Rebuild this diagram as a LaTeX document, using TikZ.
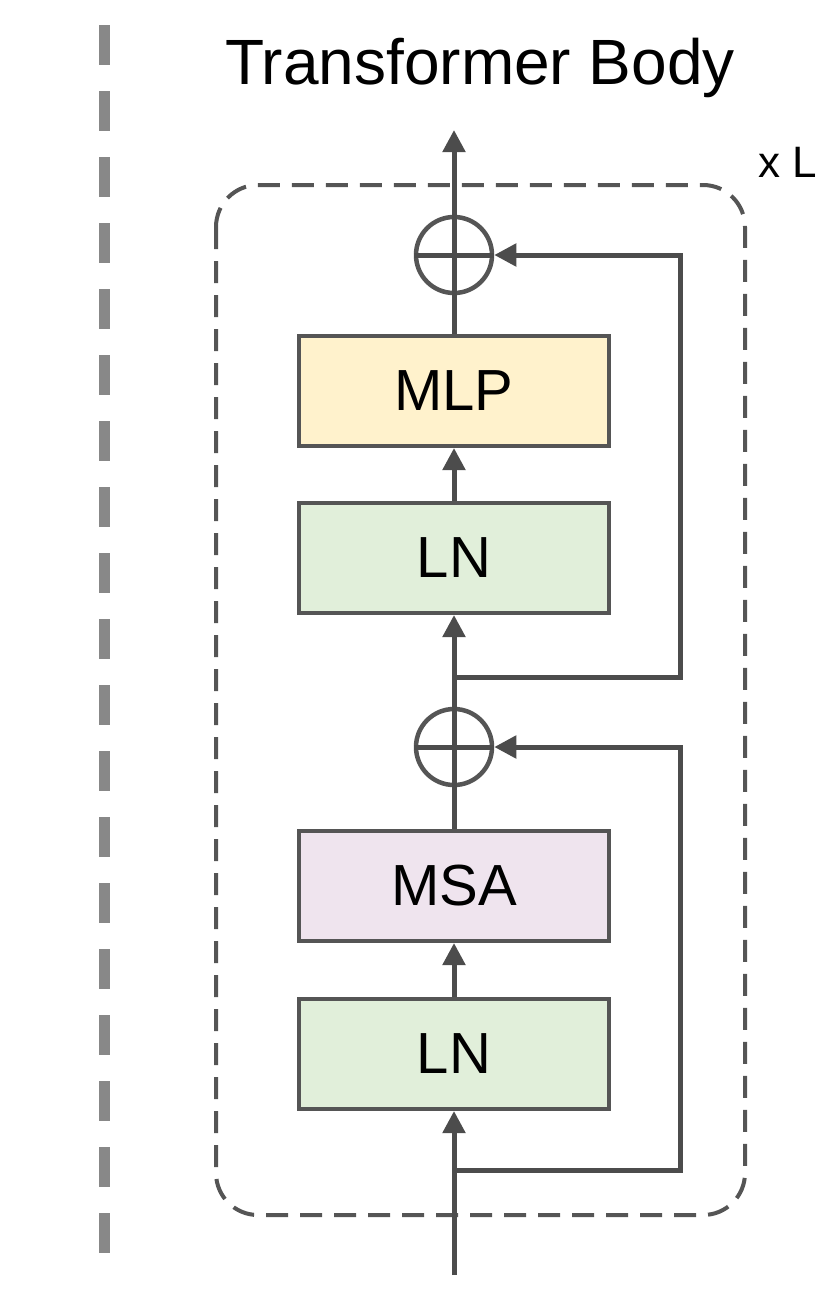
\documentclass[tikz,border=0pt]{standalone}
\usepackage{fontspec}
\setmainfont{Liberation Sans}
\usetikzlibrary{arrows.meta}
\definecolor{ln}{HTML}{555555}
\definecolor{lg}{HTML}{888888}
\definecolor{mlp}{HTML}{FFF2CC}
\definecolor{lnf}{HTML}{E1EFDA}
\definecolor{msa}{HTML}{EFE4EE}
\begin{document}
\begin{tikzpicture}[x=1pt,y=-1pt,
  box/.style={draw=ln,line width=4pt,minimum width=310pt,minimum height=110pt,inner sep=0pt,font=\fontsize{58}{60}\selectfont},
  plus/.style={draw=ln,line width=4.5pt,circle,minimum size=76pt,inner sep=0pt},
  con/.style={draw=ln!90!black,line width=5pt},
  arr/.style={con,-{Triangle[length=22pt,width=22pt]}}]
\useasboundingbox (0,0) rectangle (832,1304);
\draw[lg,line width=11pt,dash pattern=on 40pt off 26pt] (104,25) -- (104,1265);
\node[font=\fontsize{64}{66}\selectfont] (title) at (480,68) {Transformer Body};
\node[font=\fontsize{44}{46}\selectfont] (xl) at (788,162) {x L};
\draw[ln,line width=4pt,dash pattern=on 22pt off 12pt,rounded corners=42pt] (216,185) rectangle (745,1215);
\node[box,fill=lnf] (ln1) at (454,1054) {LN};
\node[box,fill=msa] (msa) at (454,886) {MSA};
\node[plus] (p1) at (454,747) {};
\node[box,fill=lnf] (ln2) at (454,558) {LN};
\node[box,fill=mlp] (mlp) at (454,391) {MLP};
\node[plus] (p2) at (454,255) {};
\coordinate (in) at (454,1275);
\coordinate (out) at (454,130);
\coordinate (s1) at (454,1170);
\coordinate (s2) at (454,677);
\draw[con] (p1.north) -- (p1.south) (p1.west) -- (p1.east);
\draw[con] (p2.north) -- (p2.south) (p2.west) -- (p2.east);
\draw[arr] (in) -- (ln1.south);
\draw[arr] (ln1.north) -- (msa.south);
\draw[con] (msa.north) -- (p1.south);
\draw[arr] (p1.north) -- (ln2.south);
\draw[arr] (ln2.north) -- (mlp.south);
\draw[con] (mlp.north) -- (p2.south);
\draw[arr] (p2.north) -- (out);
\draw[arr] (s1) -| (680,747) -- (p1.east);
\draw[arr] (s2) -| (680,255) -- (p2.east);
\end{tikzpicture}
\end{document}
